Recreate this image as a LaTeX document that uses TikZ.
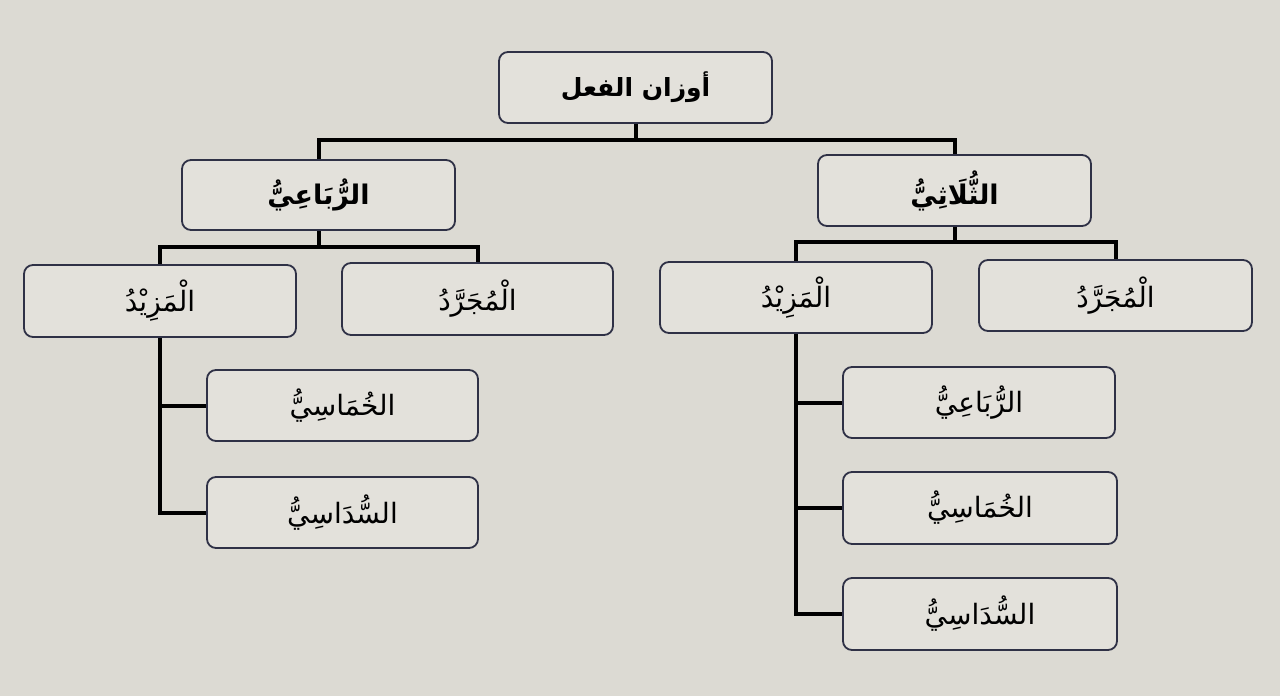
\documentclass[tikz,border=0pt]{standalone}
\usepackage{fontspec}
\newfontfamily\arabicfont[Script=Arabic]{DejaVu Sans}
\TeXXeTstate=1
\definecolor{bgc}{HTML}{DCDAD3}
\definecolor{boxc}{HTML}{E3E1DB}
\definecolor{edgec}{HTML}{2F3146}
\begin{document}
\begin{tikzpicture}[x=1pt,y=-1pt,
  bx/.style={draw=edgec,line width=1.8pt,fill=boxc,rounded corners=9pt,minimum width=272pt,minimum height=71pt,inner sep=0pt,font=\arabicfont\fontsize{28}{32}\selectfont},
  bxb/.style={bx,font=\arabicfont\bfseries\fontsize{27}{31}\selectfont},
  conn/.style={draw=black,line width=4pt}]
\fill[bgc] (0,0) rectangle (1280,696);
\useasboundingbox (0,0) rectangle (1280,696);
\node[bx,minimum width=273pt,font=\arabicfont\bfseries\fontsize{25}{29}\selectfont] (top) at (635.5,87.5) {\beginR أوزان الفعل\endR};
\node[bxb,minimum width=273pt,minimum height=70pt] (rub) at (318.5,195) {\beginR الرُّبَاعِيُّ\endR};
\node[bxb,minimum width=273pt] (thul) at (954.5,190.5) {\beginR الثُّلَاثِيُّ\endR};
\node[bx,minimum height=72pt] (Lmaz) at (160,301) {\beginR الْمَزِيْدُ\endR};
\node[bx,minimum width=271pt,minimum height=72pt] (Lmuj) at (477.5,299) {\beginR الْمُجَرَّدُ\endR};
\node[bx,minimum width=271pt] (Lkh) at (342.5,405.5) {\beginR الخُمَاسِيُّ\endR};
\node[bx,minimum width=271pt] (Lsd) at (342.5,512.5) {\beginR السُّدَاسِيُّ\endR};
\node[bx] (Rmaz) at (796,297.5) {\beginR الْمَزِيْدُ\endR};
\node[bx,minimum width=273pt] (Rmuj) at (1115.5,295.5) {\beginR الْمُجَرَّدُ\endR};
\node[bx] (Rrub) at (979,402.5) {\beginR الرُّبَاعِيُّ\endR};
\node[bx,minimum width=274pt,minimum height=72pt] (Rkh) at (980,508) {\beginR الخُمَاسِيُّ\endR};
\node[bx,minimum width=274pt,minimum height=72pt] (Rsd) at (980,614) {\beginR السُّدَاسِيُّ\endR};
\coordinate (j0) at (635.5,140);
\coordinate (j1) at (318.5,247);
\coordinate (j2) at (954.5,242);
\draw[conn] (top.south) -- (j0);
\draw[conn] (j0) -| (rub.north);
\draw[conn] (j0) -| (thul.north);
\draw[conn] (rub.south) -- (j1);
\draw[conn] (j1) -| (Lmaz.north);
\draw[conn] (j1) -| (Lmuj.north);
\draw[conn] (thul.south) -- (j2);
\draw[conn] (j2) -| (Rmaz.north);
\draw[conn] (j2) -| (Rmuj.north);
\draw[conn] (Lmaz.south) |- (Lsd.west);
\draw[conn] (Lmaz.south |- Lkh.west) -- (Lkh.west);
\draw[conn] (Rmaz.south) |- (Rsd.west);
\draw[conn] (Rmaz.south |- Rrub.west) -- (Rrub.west);
\draw[conn] (Rmaz.south |- Rkh.west) -- (Rkh.west);
\end{tikzpicture}
\end{document}
